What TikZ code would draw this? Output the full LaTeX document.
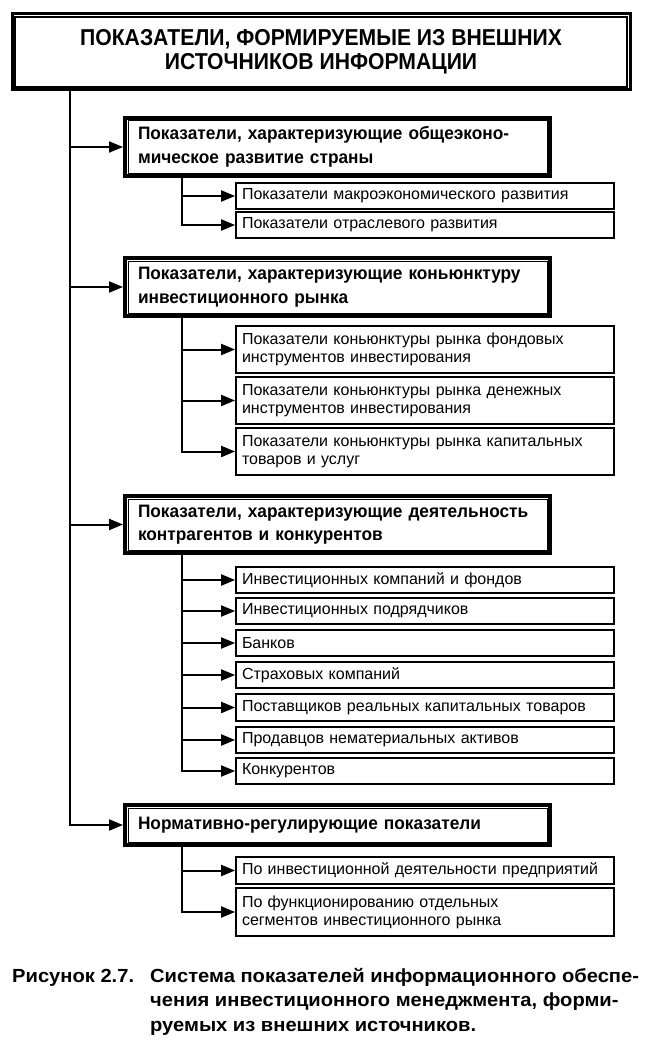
\documentclass[tikz,border=0pt]{standalone}
\usepackage{fontspec}
\setmainfont{Liberation Sans}
\newfontfamily\tf[FakeStretch=0.92]{Liberation Sans}
\newfontfamily\gf[FakeStretch=0.96]{Liberation Sans}
\newfontfamily\cf[FakeStretch=1.06]{Liberation Sans}
\usetikzlibrary{arrows.meta}
\begin{document}
\begin{tikzpicture}[x=1pt,y=-1pt,
  arr/.style={line width=2pt,-{Triangle[length=14pt,width=11pt]}},
  titlebox/.style={draw,line width=3pt,minimum width=618pt,minimum height=76pt,inner sep=0pt,align=center,
     font=\tf\bfseries\fontsize{23}{23.5}\selectfont},
  grpbox/.style={draw,line width=4pt,minimum width=425pt,text width=399pt,inner xsep=13pt,inner ysep=0pt,align=left,
     font=\gf\bfseries\fontsize{18}{23.5}\selectfont},
  subbox/.style={draw,line width=1.8pt,minimum width=378pt,text width=366pt,inner xsep=6pt,inner ysep=0pt,align=left,
     font=\fontsize{16}{18}\selectfont},
  captext/.style={inner sep=0pt,align=left,font=\cf\bfseries\fontsize{19}{24.5}\selectfont}]
\useasboundingbox (0,0) rectangle (652,1046);
\fill[white] (0,0) rectangle (652,1046);
\coordinate (tx) at (70,0);
\coordinate (bx) at (182,0);

\node[titlebox] (title) at (321,52) {ПОКАЗАТЕЛИ, ФОРМИРУЕМЫЕ ИЗ ВНЕШНИХ\\ИСТОЧНИКОВ ИНФОРМАЦИИ};
\draw[line width=1.2pt] ([xshift=4.5pt,yshift=-4.5pt]title.north west) rectangle ([xshift=-4.5pt,yshift=4.5pt]title.south east);

\node[grpbox,minimum height=58pt] (g1) at (337.5,147) {Показатели, характеризующие общеэконо-\\мическое развитие страны};
\node[grpbox,minimum height=58pt] (g2) at (337.5,287) {Показатели, характеризующие коньюнктуру\\инвестиционного рынка};
\node[grpbox,minimum height=57pt] (g3) at (337.5,524.5) {Показатели, характеризующие деятельность\\контрагентов и конкурентов};
\node[grpbox,minimum height=40pt] (g4) at (337.5,825) {Нормативно-регулирующие показатели};
\foreach \n in {g1,g2,g3,g4}
  \draw[line width=1pt] ([xshift=5pt,yshift=-5pt]\n.north west) rectangle ([xshift=-5pt,yshift=5pt]\n.south east);

\node[subbox,minimum height=26pt] (s1a) at (425,196) {Показатели макроэкономического развития};
\node[subbox,minimum height=26pt] (s1b) at (425,225) {Показатели отраслевого развития};

\node[subbox,minimum height=47pt] (s2a) at (425,349.5) {Показатели коньюнктуры рынка фондовых\\инструментов инвестирования};
\node[subbox,minimum height=47pt] (s2b) at (425,400.5) {Показатели коньюнктуры рынка денежных\\инструментов инвестирования};
\node[subbox,minimum height=47pt] (s2c) at (425,451.5) {Показатели коньюнктуры рынка капитальных\\товаров и услуг};

\node[subbox,minimum height=26pt] (s3a) at (425,580) {Инвестиционных компаний и фондов};
\node[subbox,minimum height=26pt] (s3b) at (425,611) {Инвестиционных подрядчиков};
\node[subbox,minimum height=26pt] (s3c) at (425,643) {Банков};
\node[subbox,minimum height=26pt] (s3d) at (425,675) {Страховых компаний};
\node[subbox,minimum height=27pt] (s3e) at (425,707.5) {Поставщиков реальных капитальных товаров};
\node[subbox,minimum height=26pt] (s3f) at (425,740) {Продавцов нематериальных активов};
\node[subbox,minimum height=26pt] (s3g) at (425,771) {Конкурентов};

\node[subbox,minimum height=27pt] (s4a) at (425,870.5) {По инвестиционной деятельности предприятий};
\node[subbox,minimum height=48pt] (s4b) at (425,912) {По функционированию отдельных\\сегментов инвестиционного рынка};

% trunk
\draw[arr] (title.south -| tx) |- (g4.west);
\foreach \g in {g1,g2,g3} \draw[arr] (\g.west -| tx) -- (\g.west);

% branches
\draw[arr] (g1.south -| bx) |- (s1b.west);
\draw[arr] (s1a.west -| bx) -- (s1a.west);
\draw[arr] (g2.south -| bx) |- (s2c.west);
\foreach \s in {s2a,s2b} \draw[arr] (\s.west -| bx) -- (\s.west);
\draw[arr] (g3.south -| bx) |- (s3g.west);
\foreach \s in {s3a,s3b,s3c,s3d,s3e,s3f} \draw[arr] (\s.west -| bx) -- (\s.west);
\draw[arr] (g4.south -| bx) |- (s4b.west);
\draw[arr] (s4a.west -| bx) -- (s4a.west);

\node[captext,anchor=base west] (fig) at (12,982) {Рисунок 2.7.};
\node[captext,anchor=base west] (capt) at (150,1031) {Система показателей информационного обеспе-\\чения инвестиционного менеджмента, форми-\\руемых из внешних источников.};
\end{tikzpicture}
\end{document}
